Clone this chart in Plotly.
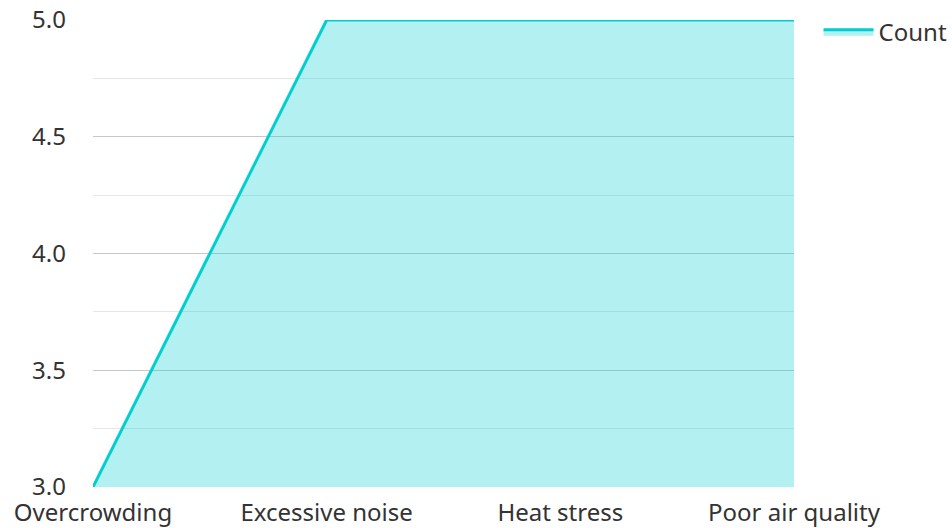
import plotly.graph_objects as go

categories = ["Overcrowding", "Excessive noise", "Heat stress", "Poor air quality"]
counts = [3, 5, 5, 5]
y_ticks = [3.0, 3.5, 4.0, 4.5, 5.0]
y_tick_labels = ["3.0", "3.5", "4.0", "4.5", "5.0"]

fig = go.Figure()
fig.add_trace(go.Scatter(
    x=categories, y=counts, name="Count", mode="lines",
    line=dict(color="#00CED1", width=3),
    fill="tozeroy", fillcolor="rgba(0,206,209,0.3)",
))

fig.update_layout(
    width=952, height=528,
    margin=dict(l=93, r=158, t=20, b=41, autoexpand=False),
    paper_bgcolor="white", plot_bgcolor="white",
    font=dict(family="Noto Sans", size=24, color="#333333"),
    showlegend=True,
    legend=dict(x=1.035, y=1.022, xanchor="left", yanchor="top", itemwidth=50,
                font=dict(size=24, color="#333333"), bgcolor="rgba(0,0,0,0)"),
    xaxis=dict(range=[0, 3], showgrid=False, zeroline=False, showline=False,
               ticks="", ticklabelstandoff=9, tickfont=dict(size=24, color="#333333")),
    yaxis=dict(range=[3, 5], tickvals=y_ticks, ticktext=y_tick_labels,
               showgrid=True, gridcolor="#c8c8c8", gridwidth=1,
               zeroline=False, showline=False, ticks="", ticklabelstandoff=26,
               minor=dict(dtick=0.25, tick0=3, showgrid=True, gridcolor="#e6e6e6", gridwidth=1),
               tickfont=dict(size=24, color="#333333")),
)

fig.write_html("out.html", config={"displayModeBar": False},
               post_script="document.body.style.margin='0';")
